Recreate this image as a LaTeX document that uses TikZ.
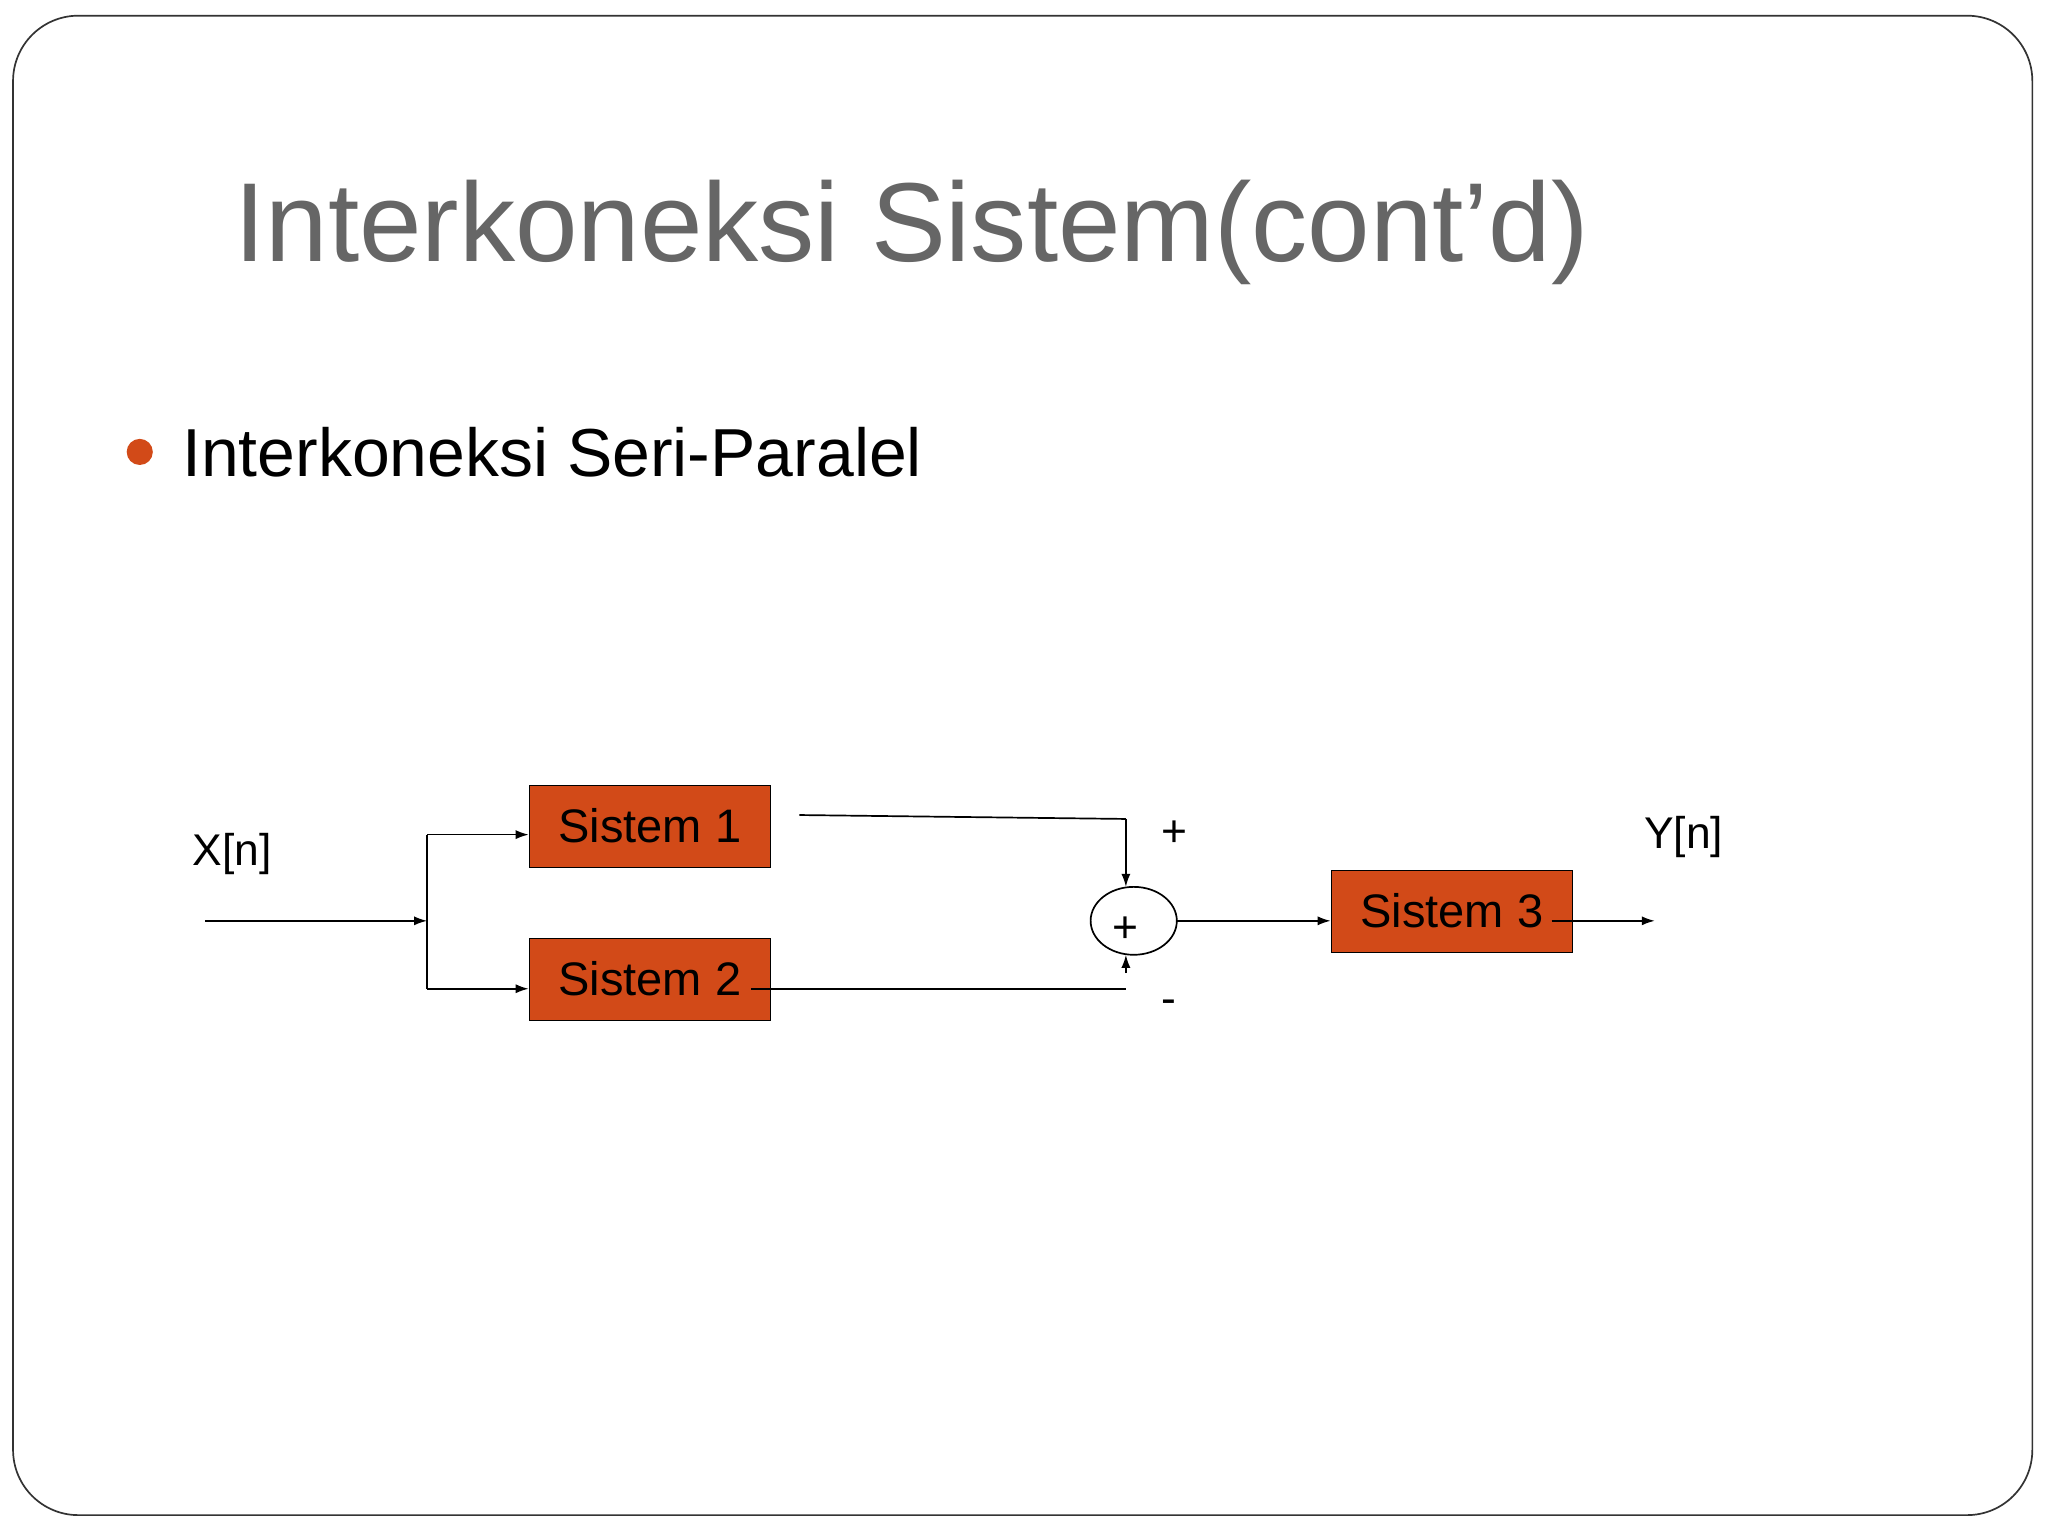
\documentclass[tikz,border=0pt]{standalone}
\usepackage{fontspec}
\setmainfont{Liberation Sans}
\usetikzlibrary{arrows.meta}
\definecolor{box}{HTML}{D24A18}
\definecolor{ttl}{HTML}{666666}
\tikzset{sys/.style={draw=black,fill=box,minimum width=185pt,minimum height=63pt,inner sep=0pt,font=\fontsize{36pt}{40pt}\selectfont},
 arr/.style={-{Latex[length=10pt,width=7pt]},line width=1.3pt},
 ln/.style={line width=1.3pt},
 lbl/.style={font=\fontsize{34pt}{38pt}\selectfont}}
\begin{document}
\begin{tikzpicture}[x=1pt,y=-1pt]
\useasboundingbox (0,0) rectangle (1568,1176);
\fill[white] (0,0) rectangle (1568,1176);
\draw[line width=1.3pt,draw=black!80,rounded corners=50pt] (10,12) rectangle (1556,1160);
\node[text=ttl,font=\fontsize{86pt}{90pt}\selectfont] (title) at (698,178) {Interkoneksi Sistem(cont’d)};
\fill[box] (107,346) circle (10pt);
\node[anchor=west,font=\fontsize{52pt}{56pt}\selectfont] (bul) at (136,346) {Interkoneksi Seri-Paralel};
\node[sys] (s1) at (497.5,632.5) {Sistem 1};
\node[sys] (s2) at (497.5,749.5) {Sistem 2};
\node[sys] (s3) at (1111.5,697.5) {Sistem 3};
\node[lbl] (x) at (178,654) {X[n]};
\node[lbl] (y) at (1289,641) {Y[n]};
\draw[ln] (868,705) ellipse (33pt and 26pt);
\coordinate (sum) at (868,705);
\node[lbl] (pl) at (862,712) {+};
\node[lbl] (p1) at (899,638) {+};
\node[lbl] (m1) at (895,771) {-};
\coordinate (in) at (157,705);
\coordinate (br) at (327,705);
\draw[arr] (in) -- (br);
\draw[ln] (327,639) -- (327,757);
\draw[arr] (327,639) -- (s1.west|-0,639);
\draw[arr] (327,757) -- (s2.west|-0,757);
\draw[ln] (612,624) -- (862,627);
\draw[arr] (862,627) -- (862,679);
\draw[ln] (575,757) -- (862,757);
\draw[arr] (862,745) -- (862,731);
\draw[arr] (901,705) -- (s3.west|-0,705);
\coordinate (out) at (1267,705);
\draw[arr] (1188,705) -- (out);
\end{tikzpicture}
\end{document}
